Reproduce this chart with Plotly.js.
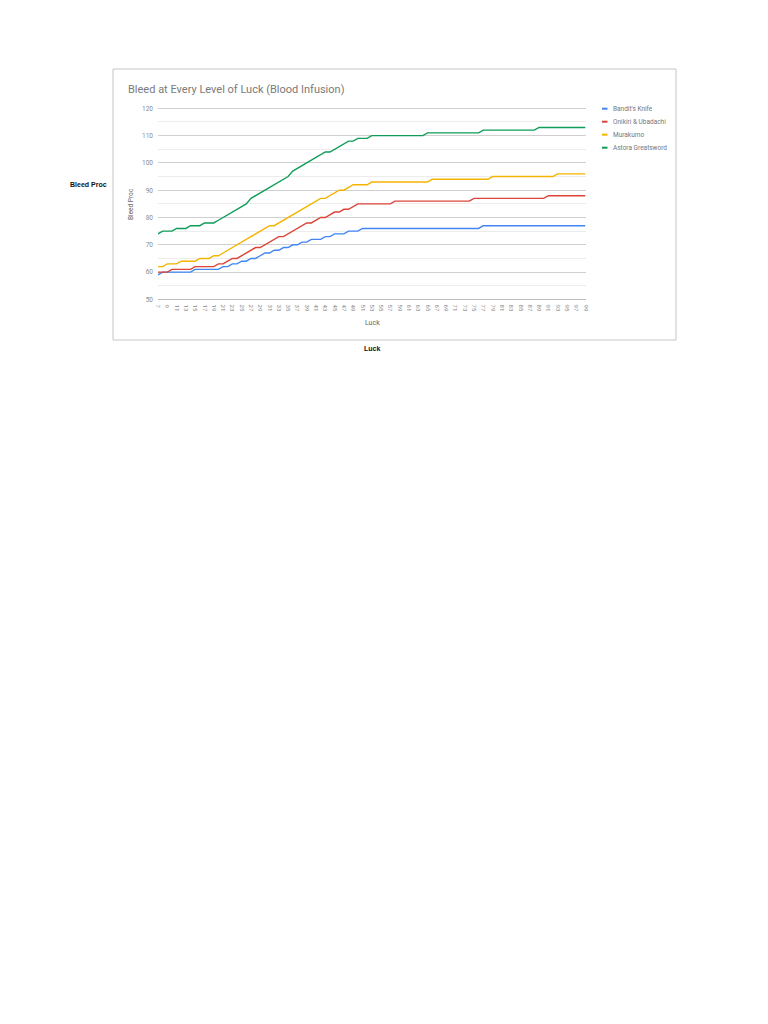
<!DOCTYPE html>
<html>
<head>
<meta charset="utf-8">
<script src="https://cdn.plot.ly/plotly-3.0.1.min.js"></script>
<style>
  html, body { margin: 0; padding: 0; background: #fff; }
  #chart { width: 768px; height: 1024px; }
</style>
</head>
<body>
<div id="chart"></div>
<script>
// luck levels 7..99
const luck = [
    7, 8, 9, 10, 11, 12, 13, 14, 15, 16,
    17, 18, 19, 20, 21, 22, 23, 24, 25, 26,
    27, 28, 29, 30, 31, 32, 33, 34, 35, 36,
    37, 38, 39, 40, 41, 42, 43, 44, 45, 46,
    47, 48, 49, 50, 51, 52, 53, 54, 55, 56,
    57, 58, 59, 60, 61, 62, 63, 64, 65, 66,
    67, 68, 69, 70, 71, 72, 73, 74, 75, 76,
    77, 78, 79, 80, 81, 82, 83, 84, 85, 86,
    87, 88, 89, 90, 91, 92, 93, 94, 95, 96,
    97, 98, 99
];

const tickLabels = [
    7, 9, 11, 13, 15, 17, 19, 21, 23, 25, 27, 29, 31, 33, 35, 37, 39, 41, 43, 45, 47, 49,
    51, 53, 55, 57, 59, 61, 63, 65, 67, 69, 71, 73, 75, 77, 79, 81, 83, 85, 87, 89, 91, 93, 95, 97, 99
];

const seriesNames = ["Bandit's Knife", "Onikiri & Ubadachi", "Murakumo", "Astora Greatsword"];
const seriesColors = ["#4285F4", "#DB4437", "#F4B400", "#0F9D58"];

const banditsKnife = [
    59, 60, 60, 60, 60, 60, 60, 60, 61, 61,
    61, 61, 61, 61, 62, 62, 63, 63, 64, 64,
    65, 65, 66, 67, 67, 68, 68, 69, 69, 70,
    70, 71, 71, 72, 72, 72, 73, 73, 74, 74,
    74, 75, 75, 75, 76, 76, 76, 76, 76, 76,
    76, 76, 76, 76, 76, 76, 76, 76, 76, 76,
    76, 76, 76, 76, 76, 76, 76, 76, 76, 76,
    77, 77, 77, 77, 77, 77, 77, 77, 77, 77,
    77, 77, 77, 77, 77, 77, 77, 77, 77, 77,
    77, 77, 77
];

const onikiri = [
    60, 60, 60, 61, 61, 61, 61, 61, 62, 62,
    62, 62, 62, 63, 63, 64, 65, 65, 66, 67,
    68, 69, 69, 70, 71, 72, 73, 73, 74, 75,
    76, 77, 78, 78, 79, 80, 80, 81, 82, 82,
    83, 83, 84, 85, 85, 85, 85, 85, 85, 85,
    85, 86, 86, 86, 86, 86, 86, 86, 86, 86,
    86, 86, 86, 86, 86, 86, 86, 86, 87, 87,
    87, 87, 87, 87, 87, 87, 87, 87, 87, 87,
    87, 87, 87, 87, 88, 88, 88, 88, 88, 88,
    88, 88, 88
];

const murakumo = [
    62, 62, 63, 63, 63, 64, 64, 64, 64, 65,
    65, 65, 66, 66, 67, 68, 69, 70, 71, 72,
    73, 74, 75, 76, 77, 77, 78, 79, 80, 81,
    82, 83, 84, 85, 86, 87, 87, 88, 89, 90,
    90, 91, 92, 92, 92, 92, 93, 93, 93, 93,
    93, 93, 93, 93, 93, 93, 93, 93, 93, 94,
    94, 94, 94, 94, 94, 94, 94, 94, 94, 94,
    94, 94, 95, 95, 95, 95, 95, 95, 95, 95,
    95, 95, 95, 95, 95, 95, 96, 96, 96, 96,
    96, 96, 96
];

const astora = [
    74, 75, 75, 75, 76, 76, 76, 77, 77, 77,
    78, 78, 78, 79, 80, 81, 82, 83, 84, 85,
    87, 88, 89, 90, 91, 92, 93, 94, 95, 97,
    98, 99, 100, 101, 102, 103, 104, 104, 105, 106,
    107, 108, 108, 109, 109, 109, 110, 110, 110, 110,
    110, 110, 110, 110, 110, 110, 110, 110, 111, 111,
    111, 111, 111, 111, 111, 111, 111, 111, 111, 111,
    112, 112, 112, 112, 112, 112, 112, 112, 112, 112,
    112, 112, 113, 113, 113, 113, 113, 113, 113, 113,
    113, 113, 113
];

const seriesValues = [banditsKnife, onikiri, murakumo, astora];

// page pixel -> paper fraction
const W = 768, H = 1024;
const px = x => x / W;
const py = y => (H - y) / H;

const LineChart = () => {
    const data = seriesValues.map((vals, i) => ({
        x: luck,
        y: vals,
        name: seriesNames[i],
        type: "scatter",
        mode: "lines",
        line: { color: seriesColors[i], width: 1.4 },
        showlegend: false
    }));

    // hand drawn legend to match the small dashes of the original
    const legendShapes = seriesNames.map((n, i) => ({
        type: "line", xref: "paper", yref: "paper",
        x0: px(602), x1: px(607.5),
        y0: py(108.7 + 13 * i), y1: py(108.7 + 13 * i),
        line: { color: seriesColors[i], width: 2 }
    }));
    const legendText = seriesNames.map((n, i) => ({
        text: n, xref: "paper", yref: "paper",
        x: px(611), y: py(108.7 + 13 * i),
        xanchor: "left", yanchor: "middle", showarrow: false,
        font: { family: "Roboto", size: 6.5, color: "#777" }
    }));

    const layout = {
        width: W,
        height: H,
        margin: { l: 0, r: 0, t: 0, b: 0 },
        paper_bgcolor: "#fff",
        plot_bgcolor: "#fff",
        font: { family: "Roboto", color: "#888" },
        xaxis: {
            domain: [px(158), px(585.5)],
            range: [7, 99],
            tickmode: "array",
            tickvals: tickLabels,
            ticktext: tickLabels.map(String),
            tickangle: 90,
            ticklabelstandoff: 3,
            tickfont: { size: 6, color: "#8a8a8a" },
            showgrid: false,
            zeroline: false,
            showline: true,
            linecolor: "#bdbdbd",
            linewidth: 1,
            ticks: "",
            fixedrange: true
        },
        yaxis: {
            // one unit of headroom above 120 so its gridline is kept
            domain: [py(299.4), py(105.6)],
            range: [50, 121],
            tickvals: [50, 60, 70, 80, 90, 100, 110, 120],
            ticklabelstandoff: 4,
            tickfont: { size: 6.5, color: "#8a8a8a" },
            gridcolor: "#d0d0d0",
            minor: { tickvals: [55, 65, 75, 85, 95, 105, 115], showgrid: true, gridcolor: "#ececec" },
            zeroline: false,
            ticks: "",
            fixedrange: true
        },
        shapes: [
            {
                type: "rect", xref: "paper", yref: "paper",
                x0: px(113), x1: px(676), y0: py(340), y1: py(69),
                line: { color: "#c6c6c6", width: 1 }
            },
            ...legendShapes
        ],
        annotations: [
            {
                text: "Bleed at Every Level of Luck (Blood Infusion)",
                xref: "paper", yref: "paper", x: px(126), y: py(89),
                xanchor: "left", yanchor: "middle", showarrow: false,
                font: { family: "Roboto", size: 11, color: "#7a7a7a" }
            },
            {
                text: "Bleed Proc",
                xref: "paper", yref: "paper", x: px(131), y: py(204),
                xanchor: "center", yanchor: "middle", showarrow: false, textangle: -90,
                font: { family: "Roboto", size: 6.5, color: "#666" }
            },
            {
                text: "Luck",
                xref: "paper", yref: "paper", x: px(372), y: py(323),
                xanchor: "center", yanchor: "middle", showarrow: false,
                font: { family: "Roboto", size: 7, color: "#666" }
            },
            {
                text: "<b>Bleed Proc</b>",
                xref: "paper", yref: "paper", x: px(88), y: py(184),
                xanchor: "center", yanchor: "middle", showarrow: false,
                font: { family: "Liberation Sans", size: 7, color: "#111" }
            },
            {
                text: "<b>Luck</b>",
                xref: "paper", yref: "paper", x: px(372), y: py(348),
                xanchor: "center", yanchor: "middle", showarrow: false,
                font: { family: "Liberation Sans", size: 7, color: "#111" }
            },
            ...legendText
        ]
    };

    Plotly.newPlot("chart", data, layout, { staticPlot: true });
};

LineChart();
</script>
</body>
</html>
